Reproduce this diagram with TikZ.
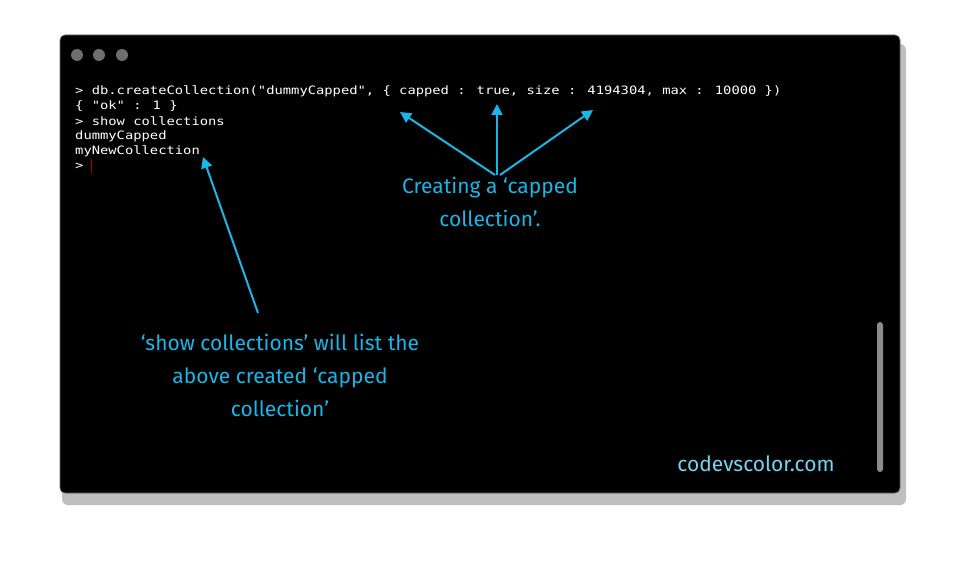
\documentclass[tikz,border=0pt]{standalone}
\usepackage{fontspec}
\newfontfamily\monof{DejaVu Sans Mono}
\newfontfamily\handf{Fira Sans}
\usetikzlibrary{arrows.meta,shadows.blur}
\definecolor{cy}{HTML}{1AB6E8}
\definecolor{dotg}{HTML}{6E6E6E}
\tikzset{
 term/.style={anchor=west,inner sep=0pt,text=white,font=\monof\fontsize{11.5}{12}\selectfont},
 hand/.style={text=cy,font=\handf\fontsize{21}{33}\selectfont,align=center,inner sep=0pt},
 arr/.style={draw=cy,line width=2pt,-{Triangle[length=11pt,width=11pt]}},
 tdot/.style={circle,fill=dotg,minimum size=12pt,inner sep=0pt}
}
\newcommand{\tl}[1]{\scalebox{1.2}[1]{#1}}
\begin{document}
\begin{tikzpicture}[x=1pt,y=-1pt]
\useasboundingbox[fill=white] (0,0) rectangle (960,580);
\fill[black!25,rounded corners=6pt] (62,44) rectangle (906,505);
\fill[black,rounded corners=5pt,draw=black!60,line width=0.8pt] (60,35) rectangle (900,493);
\node[tdot] (d1) at (77,55) {};
\node[tdot] (d2) at (99,55) {};
\node[tdot] (d3) at (122,55) {};
\node[term] (l1) at (75,91) {\tl{> db.createCollection("dummyCapped", \{ capped : true, size : 4194304, max : 10000 \})}};
\node[term] (l2) at (75,106) {\tl{\{ "ok" : 1 \}}};
\node[term] (l3) at (75,121) {\tl{> show collections}};
\node[term] (l4) at (75,136) {\tl{dummyCapped}};
\node[term] (l5) at (75,151) {\tl{myNewCollection}};
\node[term] (l6) at (75,166) {\tl{>}};
\draw[red!70!black,line width=0.8pt] (91,159) -- (91,173);
\fill[black!45,rounded corners=3pt] (877,322) rectangle (883,472);
\node[hand] (t1) at (490,202) {Creating a ‘capped\\collection’.};
\coordinate (s1) at (495,175);
\coordinate (s2) at (497,175);
\coordinate (s3) at (500,175);
\coordinate (e1) at (400,112);
\coordinate (e2) at (497,104);
\coordinate (e3) at (593,110);
\draw[arr] (s1) -- (e1);
\draw[arr] (s2) -- (e2);
\draw[arr] (s3) -- (e3);
\node[hand] (t2) at (280,375) {‘show collections’ will list the\\above created ‘capped\\collection’};
\coordinate (s4) at (258,313);
\coordinate (e4) at (203,157);
\draw[arr] (s4) -- (e4);
\node[hand,text=cy!60!white] (w) at (756,464) {codevscolor.com};
\end{tikzpicture}
\end{document}
